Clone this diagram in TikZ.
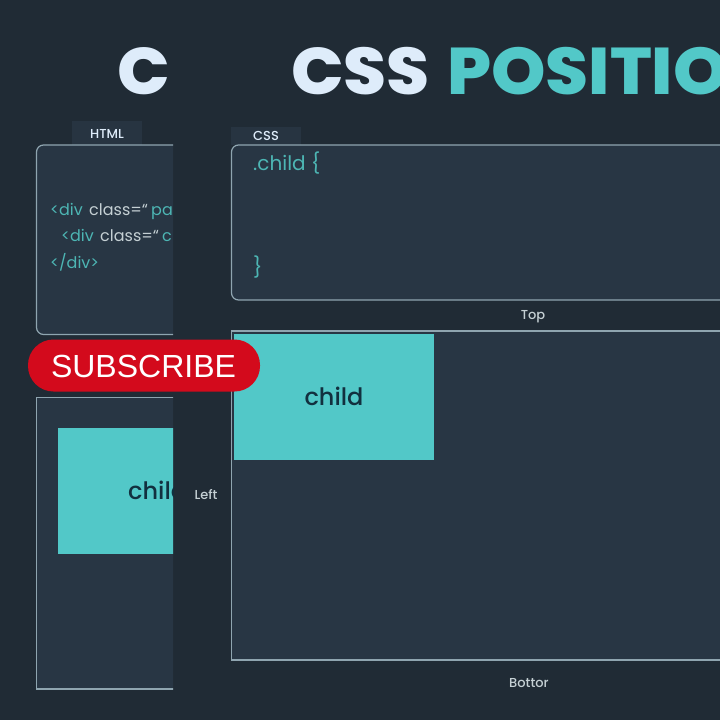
\documentclass[tikz,border=0pt]{standalone}
\usepackage{fontspec}
\setmainfont{Poppins}
\newfontfamily\subfont{Liberation Sans}
\newfontfamily\medfont{Poppins Medium}
\newfontfamily\heavyfont[FakeStretch=1.05]{Poppins ExtraBold}
\definecolor{bgc}{HTML}{202B35}
\definecolor{panelc}{HTML}{283644}
\definecolor{tabc}{HTML}{273441}
\definecolor{edgec}{HTML}{8FA5B0}
\definecolor{tealc}{HTML}{52C8C8}
\definecolor{codetealc}{HTML}{4DB6B4}
\definecolor{codegreyc}{HTML}{C5D0D4}
\definecolor{titlec}{HTML}{DEECFA}
\definecolor{inkc}{HTML}{12303F}
\definecolor{redc}{HTML}{D30A1C}
\tikzset{
  panel/.style={draw=edgec,line width=1.2pt,fill=panelc},
  tabbox/.style={fill=tabc,draw=none},
  childbox/.style={fill=tealc,draw=none},
  titletext/.style={anchor=base west,inner sep=0pt,font=\fontsize{66}{66}\heavyfont},
  code/.style={anchor=base west,inner sep=0pt,font=\fontsize{16}{16}\selectfont},
  small/.style={anchor=center,inner sep=0pt,text=codegreyc,font=\fontsize{13}{13}\medfont},
  childtext/.style={anchor=center,inner sep=0pt,text=inkc,font=\fontsize{24}{24}\medfont}
}
\begin{document}
\begin{tikzpicture}[x=1pt,y=-1pt]
\useasboundingbox (0,0) rectangle (720,720);
\fill[bgc] (0,0) rectangle (720,720);
\begin{scope}
\clip (0,0) rectangle (720,720);
% left side, cut off at its right edge
\begin{scope}
\clip (0,0) rectangle (168,130);
\node[titletext,text=titlec] (ltitle) at (117,94) {C};
\end{scope}
\node[tabbox,minimum width=70pt,minimum height=24pt] (htmltab) at (107,133) {};
\node[small,text=titlec] (htmllabel) at (107,133.5) {HTML};
\begin{scope}
\clip (0,140) rectangle (173,700);
\draw[panel,rounded corners=7pt] (36.5,145) rectangle (260,334.5);
\coordinate (lc1) at (50,215);
\coordinate (lc2) at (61,241);
\coordinate (lc3) at (50,268);
\node[code,text=codetealc] (l1a) at (lc1) {<div};
\node[code,text=codegreyc,anchor=base west] (l1b) at (89,215) {class=“};
\node[code,text=codetealc] (l1c) at (151,215) {pa};
\node[code,text=codetealc] (l2a) at (lc2) {<div};
\node[code,text=codegreyc] (l2b) at (100,241) {class=“};
\node[code,text=codetealc] (l2c) at (162,241) {c};
\node[code,text=codetealc] (l3) at (lc3) {</div>};
\draw[panel] (36.5,397.5) rectangle (300,689);
\node[childbox,minimum width=190pt,minimum height=126pt,anchor=north west] (lchild) at (58,427.5) {};
\node[childtext,anchor=base west] (lchildtext) at (128,499) {child};
\end{scope}
% right side
\node[titletext,text=titlec] (rtitle) at (291,94) {CSS};
\node[titletext,text=tealc] (rtitle2) at (447,94) {POSITIO};
\node[tabbox,minimum width=70pt,minimum height=18pt] (csstab) at (266,136) {};
\node[small,text=titlec] (csslabel) at (266,135.5) {CSS};
\draw[panel,rounded corners=7pt] (231.5,145) rectangle (760,300);
\node[code,text=codetealc,font=\fontsize{20}{20}\selectfont] (open) at (253,170) {.child \{};
\node[code,text=codetealc,font=\fontsize{20}{20}\selectfont] (close) at (253,274) {\}};
\node[small] (top) at (533,316.5) {Top};
\draw[panel] (231.5,331) rectangle (760,660);
\node[childbox,minimum width=200.5pt,minimum height=126.5pt,anchor=north west] (rchild) at (233.5,333.5) {};
\node[childtext] (rchildtext) at (334,396) {child};
\node[small] (left) at (206,495) {Left};
\node[small,anchor=base west] (bottom) at (509,687) {Bottor};
\node[fill=redc,rounded corners=25.5pt,minimum width=232pt,minimum height=52pt,inner sep=0pt] (sub) at (144,365.5) {};
\node[inner sep=0pt,text=white,font=\fontsize{32}{32}\subfont] (subtext) at (143.5,366) {SUBSCRIBE};
\end{scope}
\end{tikzpicture}
\end{document}
